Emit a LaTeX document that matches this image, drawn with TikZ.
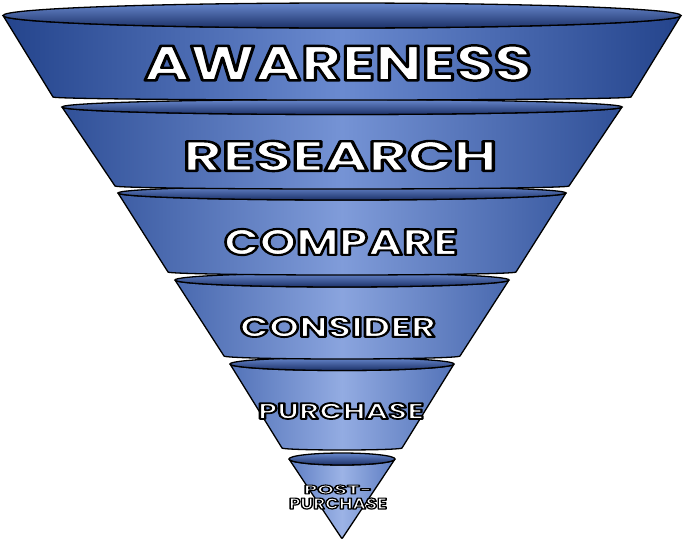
\documentclass[tikz,border=0pt]{standalone}
\usepackage{fontspec}
\usepackage{xcolor}
\usepackage{tikz}
\setmainfont{Poppins}
\definecolor{fdark}{HTML}{24448C}
\definecolor{flight}{HTML}{5D7DC2}
\definecolor{mdark}{HTML}{6A8AD0}
\definecolor{mlight}{HTML}{9CB3E6}
\definecolor{rimtop}{HTML}{6787CC}
\definecolor{rimbot}{HTML}{1C3168}
% white letters with a black rim: width, height, font size, rim width, text
\newcommand{\stagetext}[5]{\resizebox{#1}{#2}{\fontsize{#3}{#3}\selectfont\bfseries
		\special{pdf:literal direct q 0 0 0 RG 2 Tr #4 w 1 j}#5\special{pdf:literal direct Q}}}

\begin{document}
\begin{tikzpicture}[
		x=1pt,y=-1pt,
		band/.style={left color=#1,right color=#1,draw=black,line width=1.3pt,line join=round},
		rim/.style={top color=rimtop,bottom color=rimbot,draw=black,line width=1.3pt},
		lbl/.style={text=white,inner sep=0pt,align=center},
		]
		\useasboundingbox (0,0) rectangle (684,541);
		
		% layers, from the tip up
		\foreach \cy/\rx/\ry/\by/\hw/\sag/\p in {
			459/53/6/538/0.5/0.2/100,
			364/112/6.5/448/60/2/82,
			280/167/7/356/118/3/64,
			193/224/7/272/174/3/44,
			107/280/7.5/186/227/3/22,
			15.5/339/12.5/97/289/3/0}
		{
			\shade[band=flight!\p!fdark,middle color=mlight!\p!mdark]
			(342-\rx,\cy) -- (342-\hw,\by)
			arc[start angle=180,end angle=0,x radius=\hw,y radius=\sag]
			-- (342+\rx,\cy)
			arc[start angle=0,end angle=180,x radius=\rx,y radius=\ry] -- cycle;
			\shade[rim] (342,\cy) ellipse[x radius=\rx,y radius=\ry];
		}
		
		\node[lbl] (awareness) at (338,63) {\stagetext{388pt}{35pt}{48}{2.4}{AWARENESS}};
		\node[lbl] (research) at (340,156) {\stagetext{314pt}{30pt}{41}{2.3}{RESEARCH}};
		\node[lbl] (compare) at (341,242) {\stagetext{234pt}{26pt}{36}{2.1}{COMPARE}};
		\node[lbl] (consider) at (338,327) {\stagetext{196pt}{20pt}{27}{1.8}{CONSIDER}};
		\node[lbl] (purchase) at (341,411) {\stagetext{166pt}{16pt}{21}{1.6}{PURCHASE}};
		\node[lbl,font=\fontsize{10}{15}\selectfont] (post) at (338,497)
		{\stagetext{68pt}{9pt}{12}{1}{POST-}\\\stagetext{98pt}{11pt}{14}{1.1}{PURCHASE}};
\end{tikzpicture}
\end{document}
